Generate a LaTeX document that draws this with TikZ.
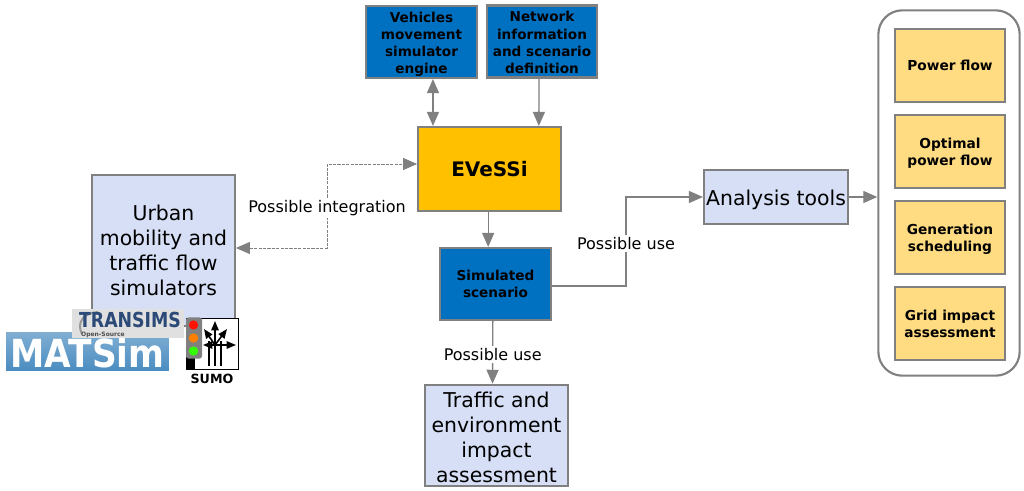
\documentclass[tikz,border=0pt]{standalone}
\usepackage{fontspec}
\setmainfont{DejaVu Sans}
\usepackage{tikz}
\usetikzlibrary{shapes.geometric,arrows.meta}
\definecolor{edgegray}{HTML}{808080}
\definecolor{darkblue}{HTML}{0070C0}
\definecolor{paleblue}{HTML}{D6DFF5}
\definecolor{amber}{HTML}{FFC000}
\definecolor{paleamber}{HTML}{FFDC82}
\definecolor{matblue}{HTML}{4A8CC0}
\definecolor{transblue}{HTML}{2B4A78}
\newcommand{\leadin}[1]{\mbox{}\\[-#1pt]}
\tikzset{bigtip/.tip={Triangle[length=10.5pt,width=9pt]}}
\tikzstyle{line} = [draw=edgegray, line width=1pt, -bigtip]
\tikzstyle{dualline} = [draw=edgegray, line width=1pt, bigtip-bigtip]
\tikzstyle{dashline} = [draw=edgegray, line width=0.6pt, dash pattern=on 2.5pt off 0.8pt, bigtip-bigtip]
\tikzstyle{box} = [rectangle, draw=edgegray, line width=1.6pt, inner sep=0pt, align=center, text=black]
\tikzstyle{engine} = [box, fill=darkblue, font=\bfseries\fontsize{10.2}{12.8}\selectfont, minimum width=83pt, minimum height=54pt]
\tikzstyle{study} = [box, fill=paleblue, font=\fontsize{15.3}{18.8}\selectfont, minimum width=107pt]
\tikzstyle{tool} = [box, fill=paleamber, font=\bfseries\fontsize{10.3}{12.8}\selectfont, minimum width=82pt, minimum height=55pt]
\tikzstyle{tag} = [fill=white, font=\fontsize{12}{14}\selectfont, inner sep=1.5pt, yshift=-1.5pt]
\begin{document}
\begin{tikzpicture}[x=0.75pt, y=-0.75pt]
	\useasboundingbox (0,0) rectangle (1024,491);
	% Place nodes
	\node [engine] (vehicles) at (421.5,42) {\leadin{2.1}Vehicles\\movement\\simulator\\engine};
	\node [engine] (network) at (542,41.5) {\leadin{3.6}Network\\information\\and scenario\\definition};
	\node [box, fill=amber, font=\bfseries\fontsize{15}{18}\selectfont, minimum width=107pt, minimum height=63pt] (evessi) at (489.5,169) {EVeSSi};
	\node [engine] (simulated) at (495.5,284) {Simulated\\scenario};
	\node [study, minimum height=113pt] (urban) at (163.5,250.5) {Urban\\mobility and\\traffic flow\\simulators};
	\node [study, minimum height=76pt] (traffic) at (496.5,435.5) {\leadin{4.2}Traffic and\\environment\\impact\\assessment};
	\node [study, minimum width=108pt, minimum height=40pt] (analysis) at (776,197) {\leadin{3.6}Analysis tools};
	\node [draw=edgegray, line width=1.6pt, rounded corners=18pt, minimum width=106pt, minimum height=274pt] (toolset) at (949,193) {};
	\node [tool] (power) at (950,65.5) {Power flow};
	\node [tool] (optimal) at (950,151.5) {\leadin{2.6}Optimal\\power flow};
	\node [tool] (generation) at (950,237.5) {\leadin{2.6}Generation\\scheduling};
	\node [tool] (impact) at (950,323.5) {\leadin{4.1}Grid impact\\assessment};
	% Logos
	\node [top color=matblue!70, bottom color=matblue, minimum width=122pt, minimum height=29pt, inner sep=0pt] (matsim) at (87.5,351.5) {};
	\node [text=white, font=\bfseries\fontsize{29}{29}\selectfont, xscale=0.89, transform shape, inner sep=0pt] (matsimname) at (87.5,353) {MATSim};
	\node [fill=black!12, minimum width=84pt, minimum height=22pt, inner sep=0pt] (transims) at (128,323.5) {};
	\draw [black!40, line width=1.5pt] (82,334) .. controls (76,322) and (84,313) .. (98,312);
	\node [text=transblue, font=\bfseries\fontsize{15.5}{16}\selectfont, xscale=0.84, transform shape, inner sep=0pt] (transimsname) at (130,320) {TRANSIMS};
	\node [text=black!70, font=\bfseries\fontsize{4.5}{5}\selectfont, inner sep=0pt] (opensource) at (103,335) {Open-Source};
	\node [draw=black, fill=white, line width=0.5pt, minimum width=39pt, minimum height=38pt, inner sep=0pt] (sumo) at (212.5,344) {};
	\node [fill=black, minimum width=6pt, minimum height=9pt, inner sep=0pt] (post) at (190.5,364) {};
	\node [fill=black!50, rounded corners=2pt, minimum width=12pt, minimum height=31pt, inner sep=0pt] (signal) at (194,338) {};
	\node [circle, fill=red!85!orange, minimum size=7pt, inner sep=0pt] (lampa) at (193.5,325) {};
	\node [circle, fill=orange, minimum size=7pt, inner sep=0pt] (lampb) at (193.5,338) {};
	\node [circle, fill=green!80!yellow, minimum size=7pt, inner sep=0pt] (lampc) at (193.5,351) {};
	\node [font=\bfseries\fontsize{9.5}{10}\selectfont, inner sep=0pt] (sumoname) at (212,378.5) {SUMO};
	\foreach \tipx/\tipy in {215/321,204/329,227/329,203/345,236/345}
		\draw [black, line width=1.2pt, -{Triangle[length=7pt,width=5.5pt]}] (215,345) -- (\tipx,\tipy);
	\foreach \footx in {209,215,221}
		\draw [black, line width=1pt] (\footx,341) -- (\footx,366);
	% Draw edges
	\path [dualline] ([xshift=8.6pt]vehicles.south) -- ([xshift=-42.4pt]evessi.north);
	\path [line] ([xshift=-2.2pt]network.south) -- ([xshift=37pt]evessi.north);
	\path [line] ([xshift=-1pt]evessi.south) -- ([xshift=-5.5pt]simulated.north);
	\path [line] ([xshift=-2pt]simulated.south) -- node [tag] {Possible use} ([xshift=-3pt]traffic.north);
	\coordinate (uselow) at (626,286);
	\coordinate (usehigh) at (626,197);
	\path [line] ([yshift=-1.5pt]simulated.east) -- (uselow) -- node [tag] {Possible use} (usehigh) -- (analysis.west);
	\path [line] (analysis.east) -- (toolset.west |- analysis.east);
	\coordinate (intlow) at (327,248);
	\coordinate (inthigh) at (327,164);
	\path [dashline] (urban.east |- intlow) -- (intlow) -- node [tag] {Possible integration} (inthigh) -- (evessi.west |- inthigh);
\end{tikzpicture}
\end{document}
